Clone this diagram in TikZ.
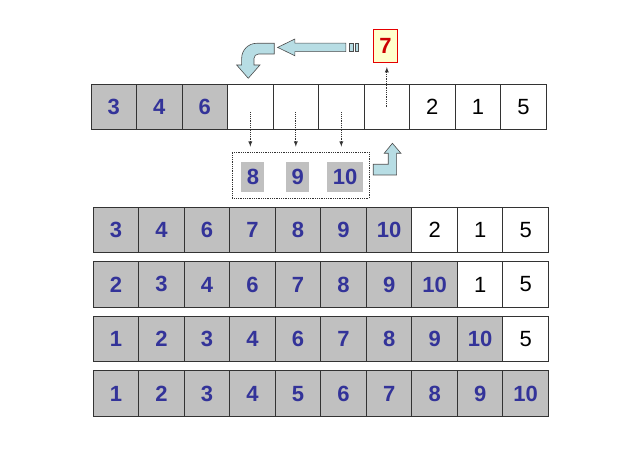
\documentclass[tikz,border=0pt]{standalone}
\usepackage{fontspec}
\setmainfont{Liberation Sans}
\usetikzlibrary{positioning}

\definecolor{cellGray}{RGB}{192,192,192}
\definecolor{numBlue}{RGB}{51,51,153}
\definecolor{arrowCyan}{RGB}{183,221,228}
\definecolor{keyRed}{RGB}{204,0,0}
\definecolor{keyFill}{RGB}{255,255,204}

\begin{document}
\begin{tikzpicture}[on grid, font=\fontsize{22}{24}\selectfont]

		\useasboundingbox (0,0) rectangle (22.43,-15.85);

		\tikzstyle{cell} = [draw=black!80, line width=1pt, minimum width=1.6cm, minimum height=1.6cm, inner sep=0pt, outer sep=0pt]
		\tikzstyle{sorted} = [cell, fill=cellGray, text=numBlue, font=\fontsize{22}{24}\selectfont\bfseries]
		\tikzstyle{unsorted} = [cell, fill=white]
		\tikzstyle{temp} = [fill=cellGray, text=numBlue, font=\fontsize{22}{24}\selectfont\bfseries, minimum height=1.08cm, inner xsep=0.19cm]
		\tikzstyle{keyBox} = [draw=red!90!black, line width=1pt, fill=keyFill, text=keyRed, font=\fontsize{22}{24}\selectfont\bfseries, minimum width=0.86cm, minimum height=1.16cm, inner sep=0pt]
		\tikzstyle{moveLine} = [black!80, densely dotted, line width=0.8pt, -latex]
		\tikzstyle{blockArrow} = [fill=arrowCyan, draw=black!70, line width=0.6pt]

		% Array before inserting 7
		\foreach \val/\sty [count=\i] in {3/sorted,4/sorted,6/sorted,{}/unsorted,{}/unsorted,{}/unsorted,{}/unsorted,2/unsorted,1/unsorted,5/unsorted}
			\node[\sty] (a\i) at ({2.4+1.6*\i},-3.77) {\val};

		% Key
		\node[keyBox] (key) at (13.55,-1.61) {7};
		\draw[moveLine, shorten >=0.15cm] (a7.center) -- (a7.center |- key.south);

		% Shifted values
		\node[draw=black!80, densely dotted, line width=0.8pt, minimum width=4.8cm, minimum height=1.62cm] (tmp) at (10.57,-6.16) {};
		\node[temp] (t8) at (8.89,-6.22) {8};
		\node[temp, right=1.58cm of t8] (t9) {9};
		\node[temp, right=1.66cm of t9] (t10) {10};
		\draw[moveLine, shorten <=0.18cm, shorten >=0.18cm] (a4.center) -- (a4.center |- tmp.north);
		\draw[moveLine, shorten <=0.18cm, shorten >=0.18cm] (a5.center) -- (a5.center |- tmp.north);
		\draw[moveLine, shorten <=0.18cm, shorten >=0.18cm] (a6.center) -- (a6.center |- tmp.north);

		% Block arrows
		\draw[blockArrow] (9.761,-1.666) -- (10.369,-1.371) -- (10.369,-1.518) -- (12.162,-1.518) -- (12.162,-1.814) -- (10.369,-1.814) -- (10.369,-1.961) -- cycle;
		\draw[blockArrow] (12.285,-1.518) rectangle (12.425,-1.814);
		\draw[blockArrow] (12.496,-1.518) rectangle (12.601,-1.814);
		\draw[blockArrow] (9.642,-1.522) -- (9.023,-1.522) arc[start angle=90, end angle=180, radius=0.527] -- (8.496,-2.285) -- (8.32,-2.285) -- (8.728,-2.752) -- (9.139,-2.285) -- (8.928,-2.285) -- (8.928,-2.058) arc[start angle=180, end angle=90, radius=0.16] -- (9.642,-1.898) -- cycle;
		\draw[blockArrow] (13.121,-5.775) -- (13.649,-5.775) -- (13.649,-5.388) -- (13.508,-5.388) -- (13.796,-5.037) -- (14.095,-5.388) -- (13.944,-5.388) -- (13.944,-6.151) -- (13.121,-6.151) -- cycle;

		% Passes
		\foreach \val/\sty [count=\i] in {3/sorted,4/sorted,6/sorted,7/sorted,8/sorted,9/sorted,10/sorted,2/unsorted,1/unsorted,5/unsorted}
			\node[\sty] (b\i) at ({2.48+1.6*\i},-8.08) {\val};
		\foreach \val/\sty [count=\i] in {2/sorted,3/sorted,4/sorted,6/sorted,7/sorted,8/sorted,9/sorted,10/sorted,1/unsorted,5/unsorted}
			\node[\sty] (c\i) at ({2.48+1.6*\i},-10) {\val};
		\foreach \val/\sty [count=\i] in {1/sorted,2/sorted,3/sorted,4/sorted,6/sorted,7/sorted,8/sorted,9/sorted,10/sorted,5/unsorted}
			\node[\sty] (d\i) at ({2.48+1.6*\i},-11.92) {\val};
		\foreach \val [count=\i] in {1,2,3,4,5,6,7,8,9,10}
			\node[sorted] (e\i) at ({2.48+1.6*\i},-13.84) {\val};

	\end{tikzpicture}
\end{document}
